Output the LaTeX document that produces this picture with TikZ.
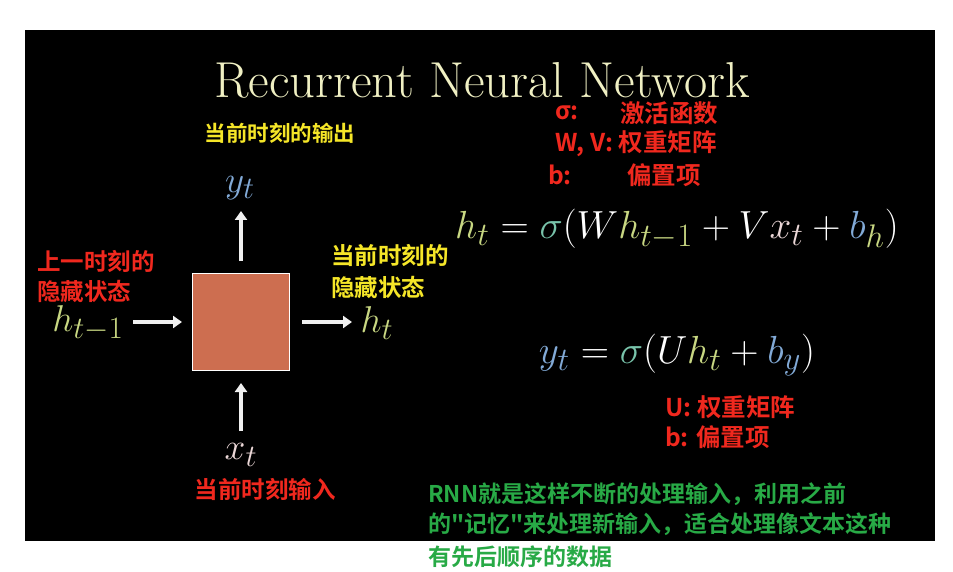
\documentclass[tikz,border=0pt]{standalone}
\usepackage{fontspec}
\usepackage{fix-cm}
\newfontfamily\cjk{Noto Sans CJK SC}[BoldFont={* Bold}]
\usetikzlibrary{arrows.meta}
\definecolor{hc}{RGB}{200,215,130}
\definecolor{yc}{RGB}{130,170,215}
\definecolor{xc}{RGB}{235,215,215}
\definecolor{sc}{RGB}{120,195,170}
\definecolor{tc}{RGB}{240,240,195}
\definecolor{rc}{RGB}{240,40,30}
\definecolor{yl}{RGB}{245,230,40}
\definecolor{gc}{RGB}{40,170,70}
\definecolor{boxc}{RGB}{205,110,80}
\tikzset{
 lab/.style={font=\cjk\bfseries\fontsize{23.5}{28}\selectfont, inner sep=0pt},
 red/.style={lab, text=rc},
 yel/.style={lab, text=yl},
 leg/.style={red, font=\cjk\bfseries\fontsize{24.5}{28}\selectfont},
 grn/.style={lab, text=gc, anchor=west, font=\cjk\bfseries\fontsize{23}{28}\selectfont},
 mth/.style={inner sep=0pt, font=\Huge, scale=1.5},
 arr/.style={draw=gray!12, line width=3.5pt, -{Triangle[width=12pt,length=9pt]}},
}
\begin{document}
\begin{tikzpicture}[x=1pt,y=-1pt]
\fill[white] (0,0) rectangle (953,572);
\fill[black] (25,30) rectangle (935,541);
\node[inner sep=0pt, text=tc, font=\Huge, scale=2.03] (title) at (482,80) {Recurrent Neural Network};
\node[yel, font=\cjk\bfseries\fontsize{21.5}{26}\selectfont] (outl) at (280,133) {当前时刻的输出};
\node[mth] (yt) at (240,188) {$\color{yc}y_t$};
\node[draw=white, line width=1.5pt, fill=boxc, minimum width=97pt, minimum height=97pt] (box) at (241,322) {};
\node[red, anchor=west] (l1) at (37,262) {上一时刻的};
\node[red, anchor=west] (l2) at (37,291) {隐藏状态};
\node[mth] (hp) at (88,323) {$\color{hc}h_{t-1}$};
\node[yel, anchor=west] (r1) at (331,256) {当前时刻的};
\node[yel, anchor=west] (r2) at (331,287) {隐藏状态};
\node[mth] (ht) at (377,323) {$\color{hc}h_t$};
\node[mth] (xt) at (241,455) {$\color{xc}x_t$};
\node[red] (inl) at (265,490) {当前时刻输入};
\coordinate (a1) at (133,322);
\coordinate (a2) at (302,322);
\coordinate (a3) at (352,322);
\coordinate (a4) at (241,261);
\coordinate (a5) at (241,211);
\coordinate (a6) at (241,431);
\coordinate (a7) at (241,383);
\coordinate (a8) at (182,322);
\draw[arr] (a1) -- (a8);
\draw[arr] (a2) -- (a3);
\draw[arr] (a4) -- (a5);
\draw[arr] (a6) -- (a7);
\node[leg, anchor=west] (s1) at (555,113) {σ:};
\node[leg, anchor=west] (s2) at (620,113) {激活函数};
\node[leg, anchor=west] (w1) at (555,144) {W, V: 权重矩阵};
\node[leg, anchor=west] (b1) at (548,175) {b:};
\node[leg, anchor=west] (b2) at (627,175) {偏置项};
\node[mth, text=white, scale=1.05] (f1) at (677,229) {$\color{hc}h_t\color{white}=\color{sc}\sigma\color{white}(W\color{hc}h_{t-1}\color{white}+V\color{xc}x_t\color{white}+\color{yc}b_{\color{hc}h}\color{white})$};
\node[mth, text=white, scale=1.05] (f2) at (677,355) {$\color{yc}y_t\color{white}=\color{sc}\sigma\color{white}(U\color{hc}h_t\color{white}+\color{yc}b_y\color{white})$};
\node[leg, anchor=west] (u1) at (665,407) {U: 权重矩阵};
\node[leg, anchor=west] (u2) at (665,437) {b: 偏置项};
\node[grn] (g1) at (428,494) {RNN就是这样不断的处理输入，利用之前};
\node[grn] (g2) at (428,524) {的"记忆"来处理新输入，适合处理像文本这种};
\node[grn] (g3) at (428,557) {有先后顺序的数据};
\end{tikzpicture}
\end{document}
